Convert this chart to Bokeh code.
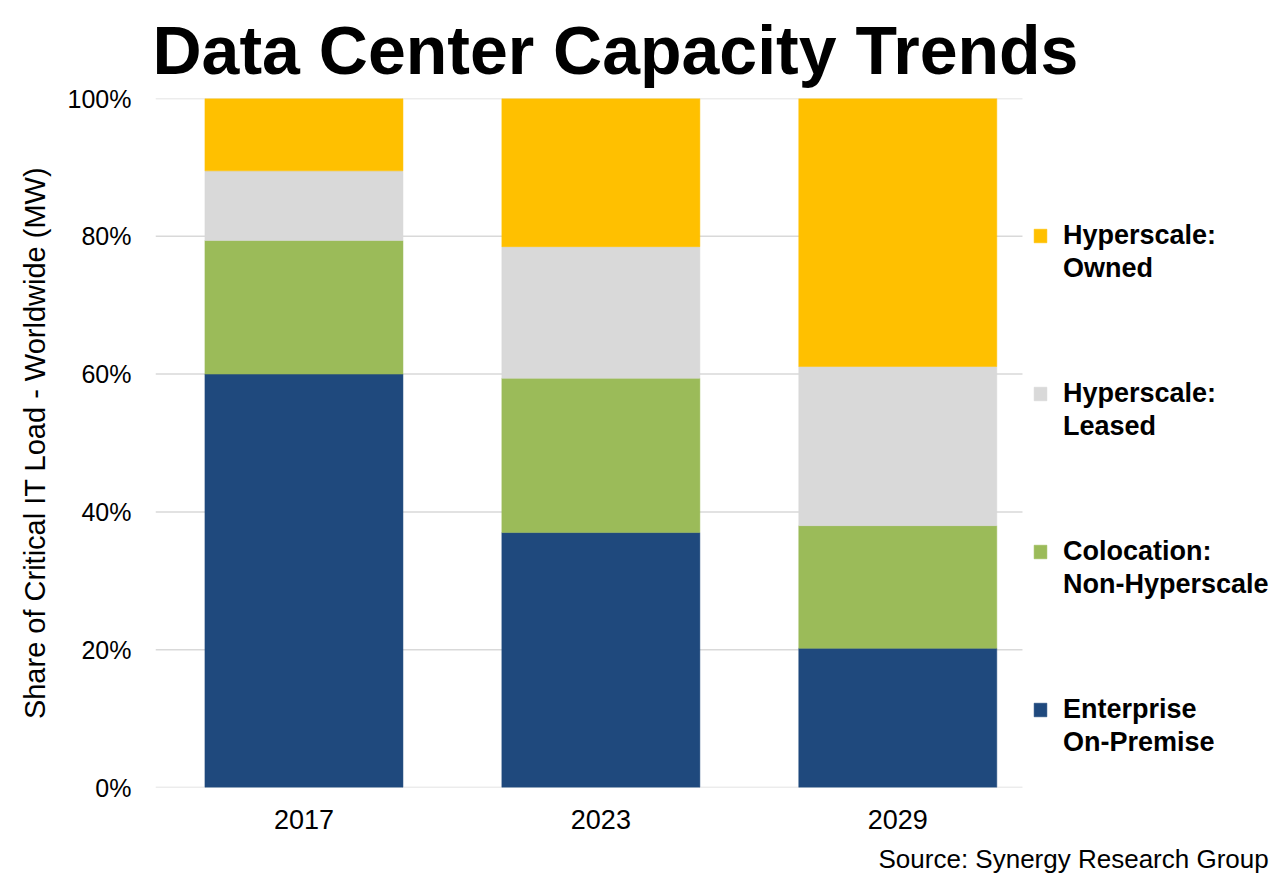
from bokeh.plotting import figure
from bokeh.models import (ColumnDataSource, Range1d, FixedTicker, PrintfTickFormatter,
                          Legend, LegendItem, Title)
from bokeh.embed import file_html
from bokeh.resources import INLINE

# ---- data (share of critical IT load, %) ----
years = ["2017", "2023", "2029"]
enterprise_on_premise = [60.0, 37.0, 20.2]
colocation_non_hyperscale = [19.4, 22.4, 17.8]
hyperscale_leased = [10.1, 19.1, 23.1]
hyperscale_owned = [10.5, 21.5, 38.9]

series = ["enterprise", "colocation", "leased", "owned"]
label_line1 = ["Enterprise", "Colocation:", "Hyperscale:", "Hyperscale:"]
label_line2 = ["On-Premise", "Non-Hyperscale", "Leased", "Owned"]
colors = ["#1F497D", "#9BBB59", "#D9D9D9", "#FFC000"]
y_ticks = [0, 20, 40, 60, 80, 100]

FONT = "Liberation Sans"

# category axis extent (bar area) and the extra room on the right used by the legend
X_START, X_BARS_END, X_END = -0.5, 2.42, 3.289

xpos = list(range(len(years)))
source = ColumnDataSource(dict(
    x=xpos,
    enterprise=enterprise_on_premise,
    colocation=colocation_non_hyperscale,
    leased=hyperscale_leased,
    owned=hyperscale_owned,
))

p = figure(width=1280, height=884, output_backend="svg", toolbar_location=None,
           x_range=Range1d(X_START, X_END), y_range=Range1d(0, 100),
           min_border_left=155, min_border_right=0,
           min_border_top=98, min_border_bottom=97)
p.outline_line_color = None
p.background_fill_color = "white"
p.border_fill_color = "white"

# horizontal gridlines limited to the bar area
p.segment(x0=[X_START] * len(y_ticks), x1=[X_BARS_END] * len(y_ticks),
          y0=y_ticks, y1=y_ticks, line_color="#D9D9D9", line_width=1.5)

renderers = p.vbar_stack(series, x="x", width=0.667, color=colors,
                         line_width=0.5, source=source)
dummy = p.vbar(x=[], top=[], width=0.1, fill_alpha=0, line_alpha=0)

# axes
p.xaxis.ticker = FixedTicker(ticks=xpos)
p.xaxis.major_label_overrides = {i: y for i, y in enumerate(years)}
p.xaxis.major_label_text_font = FONT
p.xaxis.major_label_text_font_size = "27px"
p.xaxis.major_label_text_color = "black"
p.xaxis.major_label_standoff = 22
p.xaxis.major_tick_out = 0
p.xaxis.major_tick_in = 0
p.xaxis.minor_tick_line_color = None
p.xaxis.axis_line_color = None

p.yaxis.ticker = FixedTicker(ticks=y_ticks)
p.yaxis.formatter = PrintfTickFormatter(format="%d%%")
p.yaxis.major_label_text_font = FONT
p.yaxis.major_label_text_font_size = "25px"
p.yaxis.major_label_text_color = "black"
p.yaxis.major_label_standoff = 24
p.yaxis.major_tick_out = 0
p.yaxis.major_tick_in = 0
p.yaxis.minor_tick_line_color = None
p.yaxis.axis_line_color = None
p.yaxis.axis_label = "Share of Critical IT Load - Worldwide (MW)"
p.yaxis.axis_label_text_font = FONT
p.yaxis.axis_label_text_font_size = "29px"
p.yaxis.axis_label_text_font_style = "normal"
p.yaxis.axis_label_text_color = "black"
p.yaxis.axis_label_standoff = 14

p.grid.grid_line_color = None

# legend (top to bottom: owned, leased, colocation, enterprise), two text lines each
order = list(reversed(range(len(series))))
common = dict(label_text_font=FONT, label_text_font_style="bold",
              label_text_font_size="27px", label_text_color="black",
              glyph_width=16, glyph_height=17, label_standoff=15,
              label_height=40, spacing=118, margin=0, padding=0,
              border_line_color=None, background_fill_alpha=0)
legend_a = Legend(items=[LegendItem(label=label_line1[i], renderers=[renderers[i]]) for i in order],
                  location=(877, 58), **common)
legend_b = Legend(items=[LegendItem(label=label_line2[i], renderers=[dummy]) for i in order],
                  location=(877, 25), **common)
p.add_layout(legend_a)
p.add_layout(legend_b)

# titles
p.title.text = "Data Center Capacity Trends"
p.title.text_font = FONT
p.title.text_font_style = "bold"
p.title.text_font_size = "68px"
p.title.text_color = "black"
p.title.align = "left"
p.title.vertical_align = "top"
p.title.offset = -3
p.title.standoff = 18

src = Title(text="Source: Synergy Research Group", text_font=FONT,
            text_font_size="26px", text_font_style="normal", text_color="black",
            align="left", offset=723, standoff=21)
p.add_layout(src, "below")

open("out.html", "w").write(file_html(p, INLINE))
